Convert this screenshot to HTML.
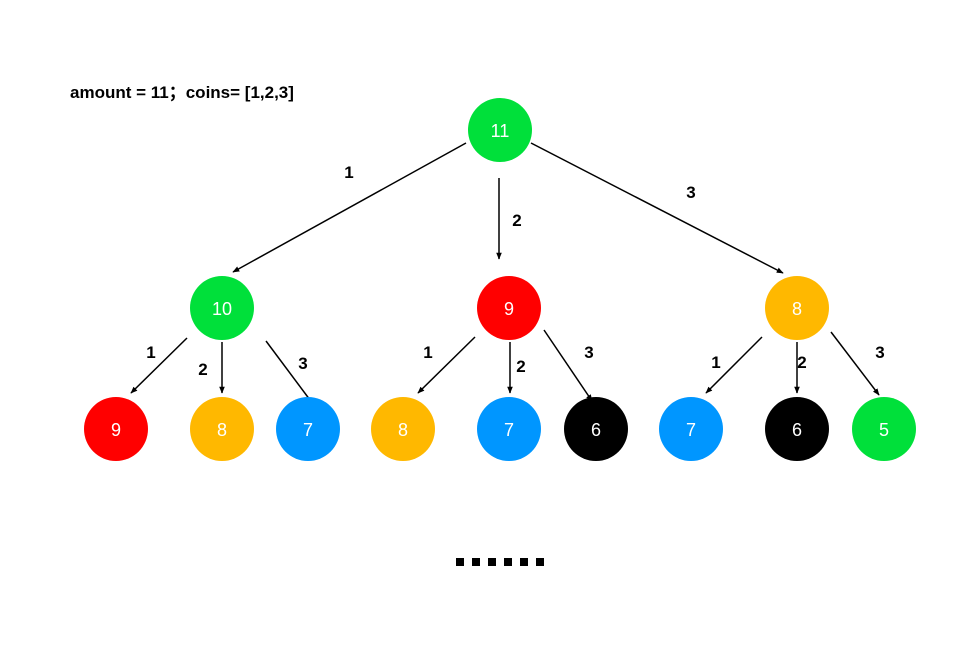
<!DOCTYPE html>
<html><head><meta charset="utf-8"><style>
html,body{margin:0;padding:0;background:#fff;}
svg{display:block;}
</style></head><body>
<svg width="963" height="655" viewBox="0 0 963 655" xmlns="http://www.w3.org/2000/svg" font-family="Liberation Sans, Arial, sans-serif">
<defs>
<marker id="a" viewBox="0 0 10 10" refX="9" refY="5" markerWidth="7" markerHeight="7" orient="auto-start-reverse" markerUnits="userSpaceOnUse">
<path d="M0,1 L10,5 L0,9 z" fill="#000"/>
</marker>
</defs>
<text x="70" y="98" font-size="17" font-weight="bold" fill="#000">amount = 11；coins= [1,2,3]</text>
<g stroke="#000" stroke-width="1.5" fill="none" marker-end="url(#a)">
<line x1="466" y1="143" x2="233" y2="272"/>
<line x1="499" y1="178" x2="499" y2="259"/>
<line x1="531" y1="143" x2="783" y2="273"/>
<line x1="187" y1="338" x2="131" y2="393"/>
<line x1="222" y1="342" x2="222" y2="393"/>
<line x1="266" y1="341" x2="313" y2="404"/>
<line x1="475" y1="337" x2="418" y2="393"/>
<line x1="510" y1="342" x2="510" y2="393"/>
<line x1="544" y1="330" x2="592" y2="401"/>
<line x1="762" y1="337" x2="706" y2="393"/>
<line x1="797" y1="342" x2="797" y2="393"/>
<line x1="831" y1="332" x2="879" y2="395"/>
</g>
<g font-size="17" font-weight="bold" fill="#000" text-anchor="middle">
<text x="349" y="178">1</text>
<text x="517" y="226">2</text>
<text x="691" y="198">3</text>
<text x="151" y="358">1</text>
<text x="203" y="375">2</text>
<text x="303" y="369">3</text>
<text x="428" y="358">1</text>
<text x="521" y="372">2</text>
<text x="589" y="358">3</text>
<text x="716" y="368">1</text>
<text x="802" y="368">2</text>
<text x="880" y="358">3</text>
</g>
<g>
<circle cx="500" cy="130" r="32" fill="#00E03A"/>
<circle cx="222" cy="308" r="32" fill="#00E03A"/>
<circle cx="509" cy="308" r="32" fill="#FF0000"/>
<circle cx="797" cy="308" r="32" fill="#FFB800"/>
<circle cx="116" cy="429" r="32" fill="#FF0000"/>
<circle cx="222" cy="429" r="32" fill="#FFB800"/>
<circle cx="308" cy="429" r="32" fill="#0096FF"/>
<circle cx="403" cy="429" r="32" fill="#FFB800"/>
<circle cx="509" cy="429" r="32" fill="#0096FF"/>
<circle cx="596" cy="429" r="32" fill="#000000"/>
<circle cx="691" cy="429" r="32" fill="#0096FF"/>
<circle cx="797" cy="429" r="32" fill="#000000"/>
<circle cx="884" cy="429" r="32" fill="#00E03A"/>
</g>
<g font-size="18" fill="#fff" text-anchor="middle">
<text x="500" y="137">11</text>
<text x="222" y="315">10</text>
<text x="509" y="315">9</text>
<text x="797" y="315">8</text>
<text x="116" y="436">9</text>
<text x="222" y="436">8</text>
<text x="308" y="436">7</text>
<text x="403" y="436">8</text>
<text x="509" y="436">7</text>
<text x="596" y="436">6</text>
<text x="691" y="436">7</text>
<text x="797" y="436">6</text>
<text x="884" y="436">5</text>
</g>
<g fill="#000">
<rect x="456" y="558" width="8" height="8"/>
<rect x="472" y="558" width="8" height="8"/>
<rect x="488" y="558" width="8" height="8"/>
<rect x="504" y="558" width="8" height="8"/>
<rect x="520" y="558" width="8" height="8"/>
<rect x="536" y="558" width="8" height="8"/>
</g>
</svg>
</body></html>
